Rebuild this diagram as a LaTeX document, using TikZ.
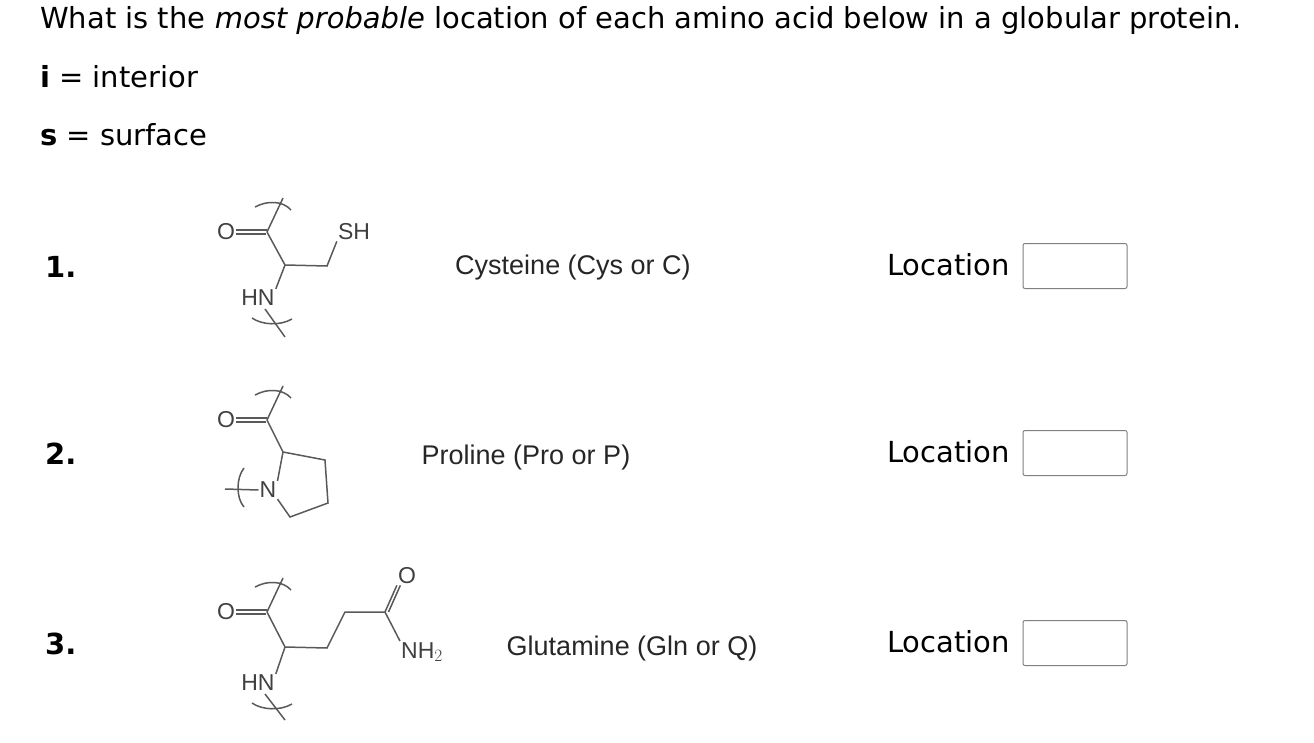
\documentclass[tikz,border=0pt]{standalone}
\usepackage{fontspec}
\setmainfont{DejaVu Sans}
\newfontfamily\arial{Liberation Sans}
\begin{document}
\begin{tikzpicture}[x=1pt,y=-1pt,
  txt/.style={anchor=west,inner sep=0pt,font=\fontsize{29}{34}\selectfont},
  num/.style={anchor=west,inner sep=0pt,font=\bfseries\fontsize{29}{34}\selectfont},
  lbl/.style={inner sep=0pt,font=\arial\fontsize{27}{32}\selectfont,text=black!85},
  atm/.style={inner sep=1pt,font=\arial\fontsize{23}{27}\selectfont,text=black!75},
  bd/.style={draw=black!65,line width=1.5pt},
  ansbox/.style={draw=black!50,line width=1pt,rounded corners=2pt,minimum width=104pt,minimum height=45pt,inner sep=0pt}]
\useasboundingbox (0,0) rectangle (1314,742);
\node[txt] (t0) at (40,20) {What is the \textit{most probable} location of each amino acid below in a globular protein.};
\node[txt] (t1) at (40,77) {\textbf{i} = interior};
\node[txt] (t2) at (40,135) {\textbf{s} = surface};
% rows
\foreach \n/\y in {1/267,2/454,3/644}{
  \node[num] (n\n) at (45,\y) {\n.};
  \node[txt] (loc\n) at (887,\y-2) {Location};
  \node[ansbox] (b\n) at (1075,\y-1) {};
}
\node[lbl] (l1) at (573,268) {Cysteine (Cys or C)};
\node[lbl] (l2) at (526,458) {Proline (Pro or P)};
\node[lbl] (l3) at (632,649) {Glutamine (Gln or Q)};
% Cysteine
\node[atm] (o1) at (226,232) {O};
\coordinate (c1) at (267,232);
\coordinate (a1) at (285,265);
\coordinate (m1) at (327,266);
\node[atm] (s1) at (354,232) {SH};
\node[atm] (hn1) at (258,298) {HN};
\draw[bd] ([yshift=-2pt]o1.east) -- ++(30,0) ([yshift=2pt]o1.east) -- ([yshift=2pt]c1);
\draw[bd] (c1) -- (283,198) (c1) -- (a1) -- (m1) -- (s1.south west);
\draw[bd] (a1) -- (hn1.north east);
\draw[bd] (265,309) -- (285,337);
\draw[bd] (255,207) .. controls (268,200) and (283,201) .. (291,210);
\draw[bd] (252,318) .. controls (262,325) and (280,326) .. (292,319);
% Proline
\node[atm] (o2) at (226,420) {O};
\coordinate (c2) at (267,420);
\coordinate (a2) at (283,452);
\coordinate (r1) at (325,460);
\coordinate (r2) at (328,503);
\coordinate (r3) at (290,517);
\node[atm] (n2) at (268,490) {N};
\draw[bd] ([yshift=-2pt]o2.east) -- ++(30,0) ([yshift=2pt]o2.east) -- ([yshift=2pt]c2);
\draw[bd] (c2) -- (283,386) (c2) -- (a2) -- (r1) -- (r2) -- (r3) -- (n2.south east);
\draw[bd] (a2) -- (n2.north east);
\draw[bd] (n2.west) -- (225,489);
\draw[bd] (255,395) .. controls (268,388) and (283,389) .. (291,398);
\draw[bd] (244,468) .. controls (236,478) and (236,498) .. (244,507);
% Glutamine
\node[atm] (o3) at (226,612) {O};
\coordinate (c3) at (267,612);
\coordinate (a3) at (285,647);
\coordinate (m3) at (327,648);
\coordinate (m4) at (345,612);
\coordinate (c4) at (385,612);
\node[atm] (o4) at (407,576) {O};
\node[atm] (nh) at (422,652) {NH$_2$};
\node[atm] (hn3) at (258,683) {HN};
\draw[bd] ([yshift=-2pt]o3.east) -- ++(30,0) ([yshift=2pt]o3.east) -- ([yshift=2pt]c3);
\draw[bd] (c3) -- (283,578) (c3) -- (a3) -- (m3) -- (m4) -- (c4) -- (nh.north west);
\draw[bd] (c4) -- (o4.south west) ([xshift=3.5pt]c4) -- ([xshift=3.5pt]o4.south west);
\draw[bd] (a3) -- (hn3.north east);
\draw[bd] (265,694) -- (285,720);
\draw[bd] (255,587) .. controls (268,580) and (283,581) .. (291,590);
\draw[bd] (252,703) .. controls (262,710) and (280,711) .. (292,704);
\end{tikzpicture}
\end{document}
